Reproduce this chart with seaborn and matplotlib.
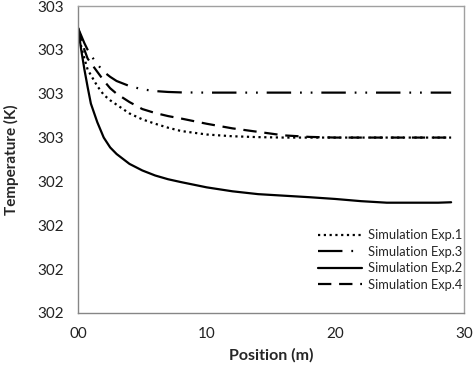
import numpy as np
import pandas as pd
import seaborn as sns
import matplotlib
matplotlib.use("Agg")
import matplotlib.pyplot as plt

sns.set_theme(style="white")
plt.rcParams['font.family'] = ['Lato', 'DejaVu Sans']

# position along the pipe (m)
position = [0, 0.25, 0.5, 0.75, 1, 1.5, 2, 2.5, 3, 4, 5, 6, 7, 8,
            10, 12, 14, 16, 18, 20, 22, 24, 26, 28, 29]

# temperatures (K)
exp1 = [303.20, 303.115, 303.06, 303.01, 302.985, 302.935, 302.895, 302.87, 302.85, 302.81,
        302.783, 302.763, 302.745, 302.73,
        302.714, 302.706, 302.702, 302.70, 302.70, 302.70, 302.70, 302.70, 302.70, 302.70, 302.70]
exp3 = [303.20, 303.165, 303.13, 303.10, 303.075, 303.035, 303.0, 302.977, 302.958, 302.935,
        302.92, 302.912, 302.908, 302.906,
        302.905, 302.905, 302.905, 302.905, 302.905, 302.905, 302.905, 302.905, 302.905, 302.905, 302.905]
exp2 = [303.20, 303.10, 303.01, 302.93, 302.855, 302.77, 302.70, 302.655, 302.625, 302.58,
        302.55, 302.527, 302.51, 302.497,
        302.473, 302.455, 302.442, 302.435, 302.428, 302.42, 302.41, 302.403, 302.403, 302.403, 302.405]
exp4 = [303.20, 303.15, 303.10, 303.06, 303.04, 303.0, 302.96, 302.925, 302.90, 302.862,
        302.83, 302.812, 302.798, 302.787,
        302.763, 302.742, 302.726, 302.71, 302.703, 302.70, 302.70, 302.70, 302.70, 302.70, 302.70]

series_names = ["Simulation Exp.1", "Simulation Exp.3", "Simulation Exp.2", "Simulation Exp.4"]

x_ticks = [0, 10, 20, 30]
x_tick_labels = ["00", "10", "20", "30"]
y_ticks = [301.9, 302.1, 302.3, 302.5, 302.7, 302.9, 303.1, 303.3]
y_tick_labels = ["302", "302", "302", "302", "303", "303", "303", "303"]

frames = []
for name, vals in zip(series_names, [exp1, exp3, exp2, exp4]):
    frames.append(pd.DataFrame({"Position": position, "Temperature": vals, "series": name}))
df = pd.concat(frames, ignore_index=True)

fig = plt.figure(figsize=(4.74, 3.66), dpi=100)
ax = fig.add_axes([78 / 474, 1 - 313 / 366, (464 - 78) / 474, (313 - 6) / 366])

dashes = {
    "Simulation Exp.1": (1, 1.6),
    "Simulation Exp.3": (11, 4, 0.8, 4, 0.8, 4),
    "Simulation Exp.2": "",
    "Simulation Exp.4": (6, 3.5),
}
sns.lineplot(data=df, x="Position", y="Temperature", style="series",
             style_order=series_names, dashes=dashes, color="black",
             linewidth=1.6, ax=ax)

ax.set_xlim(0, 30)
ax.set_ylim(301.9, 303.3)
ax.set_xticks(x_ticks)
ax.set_xticklabels(x_tick_labels)
ax.set_yticks(y_ticks)
ax.set_yticklabels(y_tick_labels)
ax.tick_params(axis="both", direction="out", length=5, width=1, color="#868686",
               labelsize=11, labelcolor="#222222", pad=5)
for sp in ax.spines.values():
    sp.set_color("#a0a0a0")
    sp.set_linewidth(1)
ax.spines["left"].set_color("#868686")
ax.spines["bottom"].set_color("#868686")

ax.set_xlabel("Position (m)", fontsize=11.5, fontweight="bold")
ax.set_ylabel("Temperature (K)", fontsize=11, fontweight="bold")
ax.xaxis.set_label_coords(0.5, -0.115)
ax.yaxis.set_label_coords(-0.153, 0.5)

leg = ax.legend(loc="lower right", bbox_to_anchor=(1.01, 0.055), frameon=False,
                fontsize=9.3, handlelength=3.4, handletextpad=0.5,
                labelspacing=0.35, borderaxespad=0)
leg.set_title(None)

fig.savefig("out.png", dpi=100)
